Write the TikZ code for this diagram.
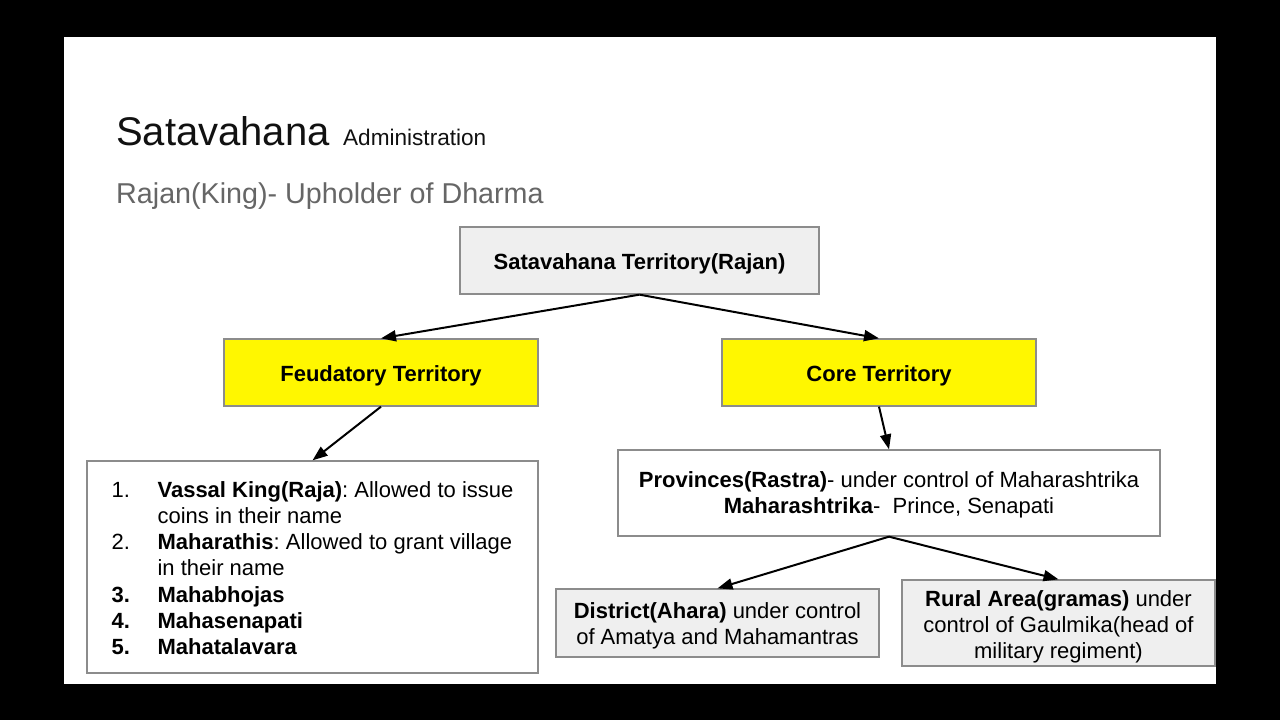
\documentclass[tikz,border=0pt]{standalone}
\usepackage{fontspec}
\setmainfont{Liberation Sans}
\usetikzlibrary{arrows.meta}
\frenchspacing
\definecolor{boxgray}{HTML}{EFEFEF}
\definecolor{edgegray}{HTML}{8C8C8C}
\definecolor{hiyellow}{HTML}{FFF700}
\definecolor{subgray}{HTML}{666666}
\definecolor{titleblack}{HTML}{111111}
\newcommand{\pushdown}[1]{\rule{0pt}{#1}}
\tikzset{
  box/.style={draw=edgegray, line width=1.3pt, inner sep=0pt, align=center,
    font=\fontsize{22}{26.2}\selectfont, text=black},
  graybox/.style={box, fill=boxgray},
  yellowbox/.style={box, fill=hiyellow},
  whitebox/.style={box, fill=white},
  conn/.style={line width=2pt, -{Triangle[length=15pt,width=11pt]}}
}
\begin{document}
\begin{tikzpicture}[x=1pt,y=-1pt]
\fill[black] (0,0) rectangle (1280,720);
\fill[white] (64,37) rectangle (1216,684);
\useasboundingbox (0,0) rectangle (1280,720);

\node[anchor=base west, inner sep=0pt, text=titleblack, font=\fontsize{40}{48}\selectfont] (title) at (116,145) {Satavahana};
\node[anchor=base west, inner sep=0pt, text=titleblack, font=\fontsize{22.6}{27}\selectfont] (admin) at ([xshift=13pt]title.base east) {Administration};
\node[anchor=base west, inner sep=0pt, text=subgray, font=\fontsize{28.7}{34}\selectfont] (sub) at (116,203) {Rajan(King)- Upholder of Dharma};

\node[graybox, minimum width=359pt, minimum height=67pt] (top) at (639.5,260.5) {\pushdown{22pt}\textbf{Satavahana Territory(Rajan)}};
\node[yellowbox, minimum width=314pt, minimum height=67pt] (feud) at (381,372.5) {\pushdown{22pt}\textbf{Feudatory Territory}};
\node[yellowbox, minimum width=314pt, minimum height=67pt] (core) at (879,372.5) {\pushdown{22pt}\textbf{Core Territory}};
\node[whitebox, align=left, minimum width=451pt, minimum height=212pt] (list) at (312.5,567) {%
\pushdown{18pt}\makebox[46pt][l]{1.}\textbf{Vassal King(Raja)}: Allowed to issue\\
\hspace*{46pt}coins in their name\\
\makebox[46pt][l]{2.}\textbf{Maharathis}: Allowed to grant village\\
\hspace*{46pt}in their name\\
\makebox[46pt][l]{\textbf{3.}}\textbf{Mahabhojas}\\
\makebox[46pt][l]{\textbf{4.}}\textbf{Mahasenapati}\\
\makebox[46pt][l]{\textbf{5.}}\textbf{Mahatalavara}};
\node[whitebox, minimum width=542pt, minimum height=86pt] (prov) at (889,493) {\pushdown{20pt}\textbf{Provinces(Rastra)}- under control of Maharashtrika\\ \textbf{Maharashtrika}-\ \ Prince, Senapati};
\node[graybox, minimum width=323pt, minimum height=68pt] (dist) at (717.5,623) {\pushdown{22pt}\textbf{District(Ahara)} under control\\ of Amatya and Mahamantras};
\node[graybox, minimum width=313pt, minimum height=86pt] (rural) at (1058.5,623) {\pushdown{24pt}\textbf{Rural Area(gramas)} under\\ control of Gaulmika(head of\\ military regiment)};

\draw[conn] (top.south) -- (feud.north);
\draw[conn] (top.south) -- (core.north);
\draw[conn] (feud.south) -- (list.north);
\draw[conn] (core.south) -- (prov.north);
\draw[conn] (prov.south) -- (dist.north);
\draw[conn] (prov.south) -- (rural.north);
\end{tikzpicture}
\end{document}
